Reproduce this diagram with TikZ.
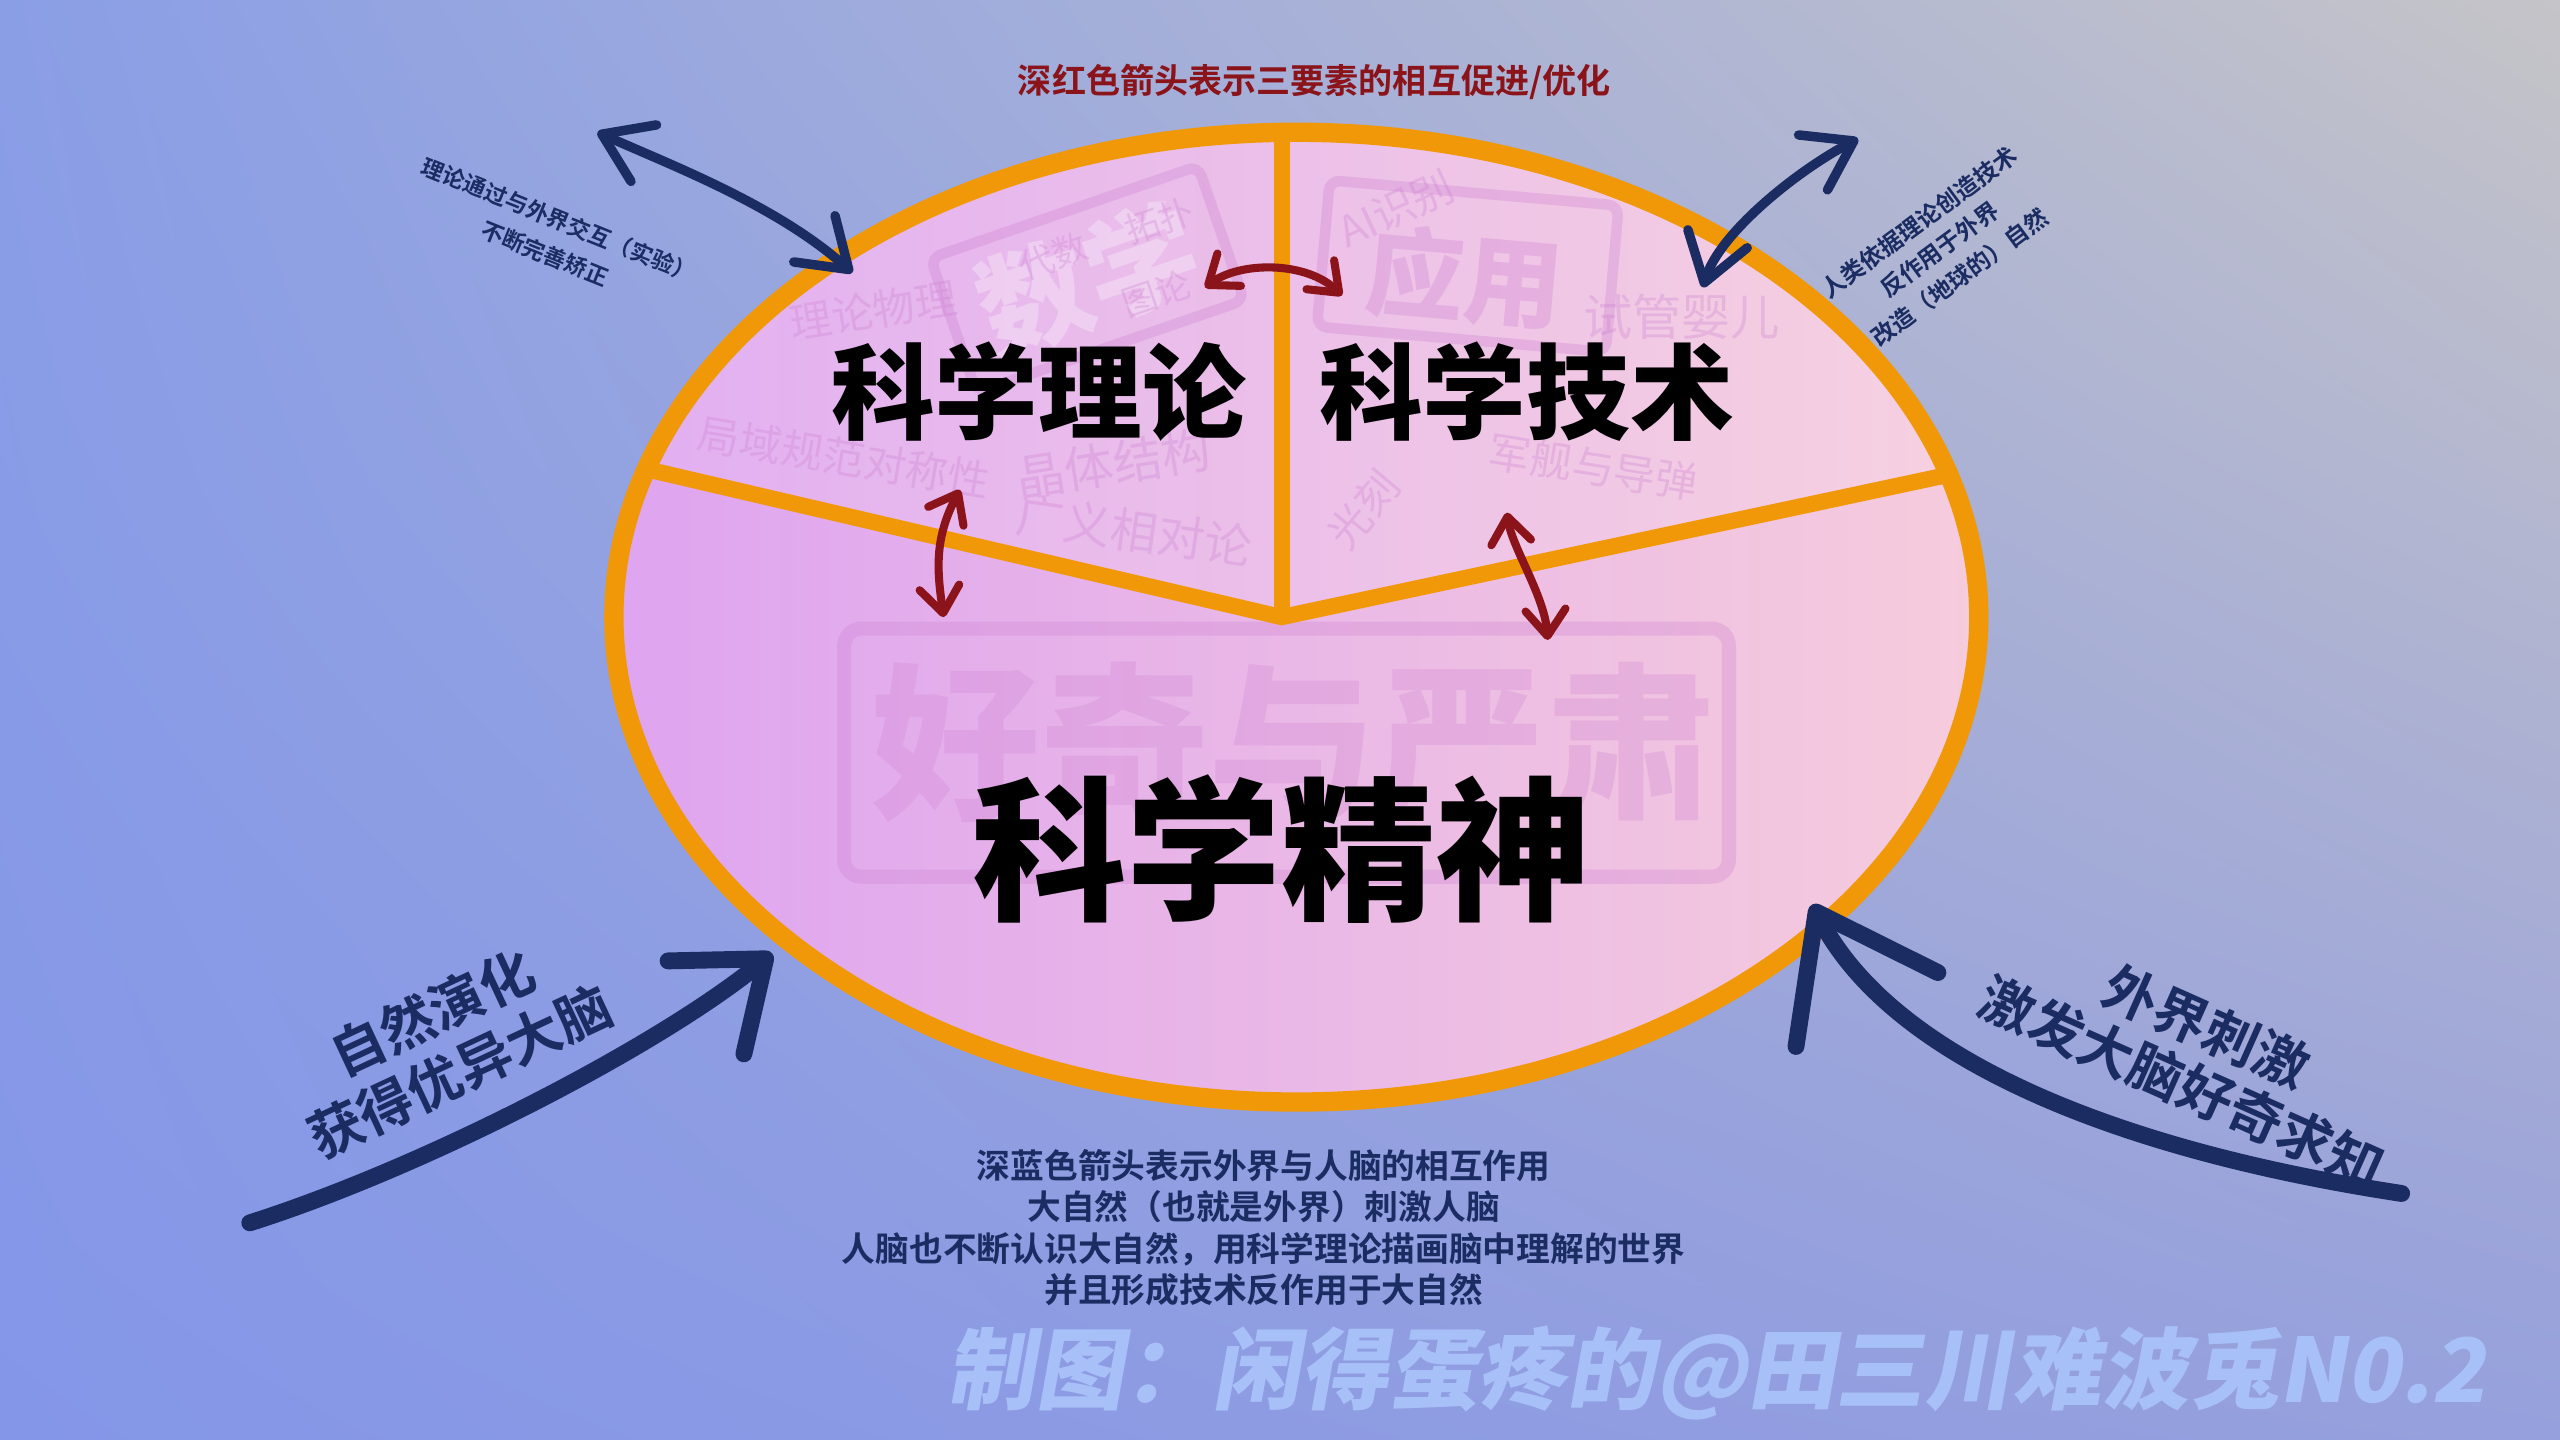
\documentclass[tikz,border=0pt]{standalone}
\usepackage{fontspec}
\usetikzlibrary{arrows.meta,shadings}
\newfontfamily\cjk{Noto Sans CJK SC}[BoldFont={Noto Sans CJK SC Bold}]
\newfontfamily\cjkheavy{Noto Sans CJK SC Black}
\newfontfamily\cjksig{Noto Sans CJK SC Black}[FakeSlant=0.18]
\begin{document}
\begin{tikzpicture}[
		x=0.016327cm, y=0.016327cm,
		every node/.style={inner sep=0pt},
		vien/.style={draw=MauCam, line width=5.5pt},
		muiten/.style={draw=MauXanhDam, line width=2.7pt, line cap=round,
			arrows={Straight Barb[round,length=4.6mm,width=6.2mm]-Straight Barb[round,length=4.6mm,width=6.2mm]}},
		muitenlon/.style={draw=MauXanhDam, line width=4.8pt, line cap=round,
			arrows={-Straight Barb[round,length=7.7mm,width=12mm]}},
		muitendo/.style={draw=MauDoDam, line width=2.3pt, line cap=round,
			arrows={Straight Barb[round,length=2.6mm,width=4mm]-Straight Barb[round,length=2.6mm,width=4mm]}},
		chuto/.style={font=\cjkheavy\fontsize{29.5}{32}\selectfont},
		ghichu/.style={text=MauXanhDam, align=center},
		chimo/.style={text=MauChiMo, opacity=0.32, font=\cjk\fontsize{12}{14}\selectfont}
	]
		\definecolor{MauNenA}{RGB}{138,158,230}
		\definecolor{MauNenB}{RGB}{197,196,200}
		\definecolor{MauNenC}{RGB}{132,150,232}
		\definecolor{MauNenD}{RGB}{150,160,220}
		\definecolor{MauTrongA}{RGB}{222,164,240}
		\definecolor{MauTrongB}{RGB}{246,204,220}
		\definecolor{MauCam}{RGB}{240,152,8}
		\definecolor{MauXanhDam}{RGB}{27,44,99}
		\definecolor{MauDoDam}{RGB}{138,20,25}
		\definecolor{MauChiMo}{RGB}{206,130,210}
		\definecolor{MauKy}{RGB}{168,192,248}
		\useasboundingbox (0,0) rectangle (1568,-882);
		\shade[upper left=MauNenA, upper right=MauNenB,
			lower left=MauNenC, lower right=MauNenD]
			(0,0) rectangle (1568,-882);
		\coordinate (tam) at (794,-378);
		\coordinate (dinh) at (785,-378);
		\begin{scope}
			\clip (tam) ellipse [x radius=418, y radius=297];
			\shade[left color=MauTrongA, right color=MauTrongB]
				(370,0) rectangle (1220,-700);
			\fill[white, opacity=0.12]
				(360,-279) -- (dinh) -- (1230,-283) -- (1230,0) -- (360,0) -- cycle;
			\node[chimo, rotate=9] (wmVatLy) at (535,-190) {理论物理};
			\node[chimo, rotate=-9.5] (wmDoiXung) at (517,-280) {局域规范对称性};
			\node[chimo, rotate=9, font=\cjk\fontsize{14}{16}\selectfont]
				(wmTinhThe) at (682,-284) {晶体结构};
			\node[chimo, rotate=-8, font=\cjk\fontsize{13.5}{16}\selectfont]
				(wmTuongDoi) at (695,-325) {广义相对论};
			\node[chimo, draw=MauChiMo, line width=3pt, rounded corners=3pt,
				minimum width=2.83cm, minimum height=1.42cm, rotate=19]
				(hopToan) at (666,-171) {};
			\node[rotate=19, text=white, opacity=0.3,
				font=\cjkheavy\fontsize{32}{34}\selectfont]
				(wmToan) at (666,-171) {数学};
			\node[chimo, rotate=19, font=\cjk\fontsize{10}{12}\selectfont]
				(wmDaiSo) at (645,-157) {代数};
			\node[chimo, rotate=19, font=\cjk\fontsize{10}{12}\selectfont]
				(wmTopo) at (710,-135) {拓扑};
			\node[chimo, rotate=19, font=\cjk\fontsize{10}{12}\selectfont]
				(wmDoThi) at (708,-180) {图论};
			\node[chimo, draw=MauChiMo, line width=3pt, rounded corners=3pt,
				minimum width=2.9cm, minimum height=1.47cm, rotate=-5]
				(hopUngDung) at (899,-163) {};
			\node[chimo, rotate=-5, font=\cjkheavy\fontsize{28}{30}\selectfont]
				(wmUngDung) at (897,-170) {应用};
			\node[chimo, rotate=25] (wmAI) at (855,-128) {AI识别};
			\node[chimo, font=\cjk\fontsize{14}{16}\selectfont]
				(wmOngNghiem) at (1030,-194) {试管婴儿};
			\node[chimo, rotate=-9] (wmTenLua) at (976,-286) {军舰与导弹};
			\node[chimo, rotate=50] (wmQuangKhac) at (835,-312) {光刻};
			\draw[MauChiMo, opacity=0.3, line width=4pt, rounded corners=5pt]
				(517,-385) rectangle (1059,-537);
			\node[chimo, opacity=0.28, font=\cjkheavy\fontsize{48}{50}\selectfont]
				(wmHieuKy) at (792,-455) {好奇与严肃};
			\draw[vien, line width=4.6pt] (360,-279) -- (dinh) -- (1230,-283);
			\draw[vien, line width=4.6pt] (dinh) -- (785,-60);
		\end{scope}
		\draw[vien] (tam) ellipse [x radius=418, y radius=297];
		\coordinate (doA1) at (738,-176);
		\coordinate (doA2) at (822,-181);
		\coordinate (doB1) at (588,-300);
		\coordinate (doB2) at (578,-378);
		\coordinate (doC1) at (923,-314);
		\coordinate (doC2) at (948,-392);
		\draw[muitendo] (doA1) .. controls (760,-160) and (800,-160) .. (doA2);
		\draw[muitendo] (doB1) .. controls (572,-330) and (574,-350) .. (doB2);
		\draw[muitendo] (doC1) .. controls (926,-335) and (946,-365) .. (doC2);
		\node[chuto] (lyThuyet) at (636,-240) {科学理论};
		\node[chuto] (kyThuat) at (935,-240) {科学技术};
		\node[chuto, font=\cjkheavy\fontsize{44}{46}\selectfont]
			(tinhThan) at (785,-520) {科学精神};
		\coordinate (xanhA1) at (366,-81);
		\coordinate (xanhA2) at (522,-167);
		\coordinate (xanhB1) at (1043,-176);
		\coordinate (xanhB2) at (1138,-85);
		\coordinate (xanhC1) at (153,-749);
		\coordinate (xanhC2) at (473,-584);
		\coordinate (xanhD1) at (1471,-731);
		\coordinate (xanhD2) at (1110,-554);
		\draw[muiten] (xanhA1) .. controls (408,-100) and (475,-125) .. (xanhA2);
		\draw[muiten] (xanhB1) .. controls (1053,-143) and (1100,-105) .. (xanhB2);
		\draw[muitenlon] (xanhC1) .. controls (260,-715) and (403,-641) .. (xanhC2);
		\draw[muitenlon, arrows={-Straight Barb[round,length=11mm,width=16mm]}]
			(xanhD1) .. controls (1300,-705) and (1160,-650) .. (xanhD2);
		\node[text=MauDoDam, font=\cjk\bfseries\fontsize{9.7}{12}\selectfont]
			(tieuDe) at (805,-50) {深红色箭头表示三要素的相互促进/优化};
		\node[ghichu, rotate=-22, font=\cjk\bfseries\fontsize{6.4}{10.3}\selectfont]
			(ghiTraiTren) at (338,-145) {理论通过与外界交互（实验）\\不断完善矫正};
		\node[ghichu, rotate=36.5, font=\cjk\bfseries\fontsize{6.7}{9.7}\selectfont]
			(ghiPhaiTren) at (1188,-153) {人类依据理论创造技术\\反作用于外界\\改造（地球的）自然};
		\node[ghichu, rotate=25, font=\cjk\bfseries\fontsize{15.5}{18.5}\selectfont]
			(ghiTraiDuoi) at (273,-638) {自然演化\\获得优异大脑};
		\node[ghichu, rotate=-24, font=\cjk\bfseries\fontsize{15.5}{17.5}\selectfont]
			(ghiPhaiDuoi) at (1344,-646) {外界刺激\\激发大脑好奇求知};
		\node[ghichu, font=\cjk\bfseries\fontsize{9.6}{11.8}\selectfont]
			(chuThich) at (774,-752) {深蓝色箭头表示外界与人脑的相互作用\\
			大自然（也就是外界）刺激人脑\\
			人脑也不断认识大自然，用科学理论描画脑中理解的世界\\
			并且形成技术反作用于大自然};
		\node[text=MauKy, font=\cjksig\fontsize{25.2}{28}\selectfont]
			(chuKy) at (1051,-841) {制图：闲得蛋疼的@田三川难波兎N0.2};
	\end{tikzpicture}
\end{document}
